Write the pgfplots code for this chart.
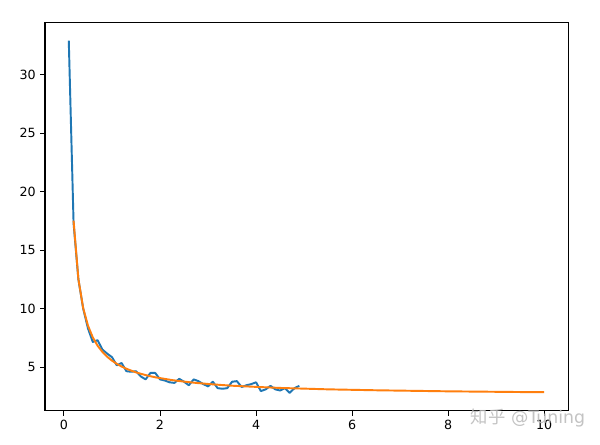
\documentclass[border=0pt]{standalone}
\usepackage{fontspec}
\setmainfont{DejaVu Sans}
\newfontfamily\cjk{Noto Sans CJK SC}
\usepackage{pgfplots}
\pgfplotsset{compat=1.18}
\definecolor{mplblue}{RGB}{31,119,180}
\definecolor{mplorange}{RGB}{255,127,14}

\begin{document}
\begin{tikzpicture}
  \path[use as bounding box, fill=white] (0,0) rectangle (450pt,333.75pt);
  \begin{axis}[at={(33.75pt,25.5pt)}, anchor=south west,
      scale only axis, width=392.25pt, height=291pt,
      xmin=-0.395, xmax=10.495, ymin=1.25, ymax=34.4,
      xtick={0,2,...,10}, ytick={5,10,...,30},
      tick align=outside, xtick pos=bottom, ytick pos=left,
      major tick length=3.4pt,
      axis line style={line width=0.75pt},
      every tick/.style={line width=0.75pt, black},
      tick label style={font=\fontsize{9.5}{11}\selectfont},
      /pgf/number format/assume math mode=true,
      clip=false]
    \addplot[mplblue, line width=1.45pt, line join=round] coordinates {
      (0.1,32.9) (0.2,17.3) (0.3,12.5) (0.4,10.0) (0.5,8.3)
      (0.6,7.15) (0.7,7.3) (0.8,6.5) (0.9,6.15) (1.0,5.85)
      (1.1,5.15) (1.2,5.35) (1.3,4.65) (1.4,4.6) (1.5,4.65)
      (1.6,4.2) (1.7,3.95) (1.8,4.5) (1.9,4.5) (2.0,3.95)
      (2.1,3.85) (2.2,3.7) (2.3,3.65) (2.4,4.0) (2.5,3.75)
      (2.6,3.45) (2.7,3.95) (2.8,3.8) (2.9,3.55) (3.0,3.35)
      (3.1,3.75) (3.2,3.2) (3.3,3.15) (3.4,3.2) (3.5,3.75)
      (3.6,3.8) (3.7,3.3) (3.8,3.45) (3.9,3.55) (4.0,3.7)
      (4.1,2.95) (4.2,3.1) (4.3,3.4) (4.4,3.1) (4.5,3.0)
      (4.6,3.2) (4.7,2.8) (4.8,3.2) (4.9,3.4)
    };
    \addplot[mplorange, line width=1.45pt, line join=round] coordinates {
      (0.2,17.51) (0.3,12.53) (0.4,10.04) (0.5,8.54) (0.6,7.54)
      (0.7,6.83) (0.8,6.30) (0.9,5.88) (1.0,5.55) (1.1,5.28)
      (1.2,5.05) (1.3,4.86) (1.4,4.70) (1.5,4.55) (1.6,4.43)
      (1.7,4.32) (1.8,4.22) (1.9,4.13) (2.0,4.06) (2.25,3.89)
      (2.5,3.76) (2.75,3.65) (3.0,3.56) (3.25,3.48) (3.5,3.41)
      (3.75,3.36) (4.0,3.31) (4.5,3.22) (5.0,3.16) (5.5,3.10)
      (6.0,3.06) (6.5,3.02) (7.0,2.99) (7.5,2.96) (8.0,2.93)
      (8.5,2.91) (9.0,2.89) (9.5,2.87) (10.0,2.86)
    };
  \end{axis}
  \node[text=gray!55, opacity=0.85, font=\fontsize{13}{15}\selectfont]
    at (396pt,20.5pt) {{\cjk 知乎} @Tuning};
\end{tikzpicture}
\end{document}
